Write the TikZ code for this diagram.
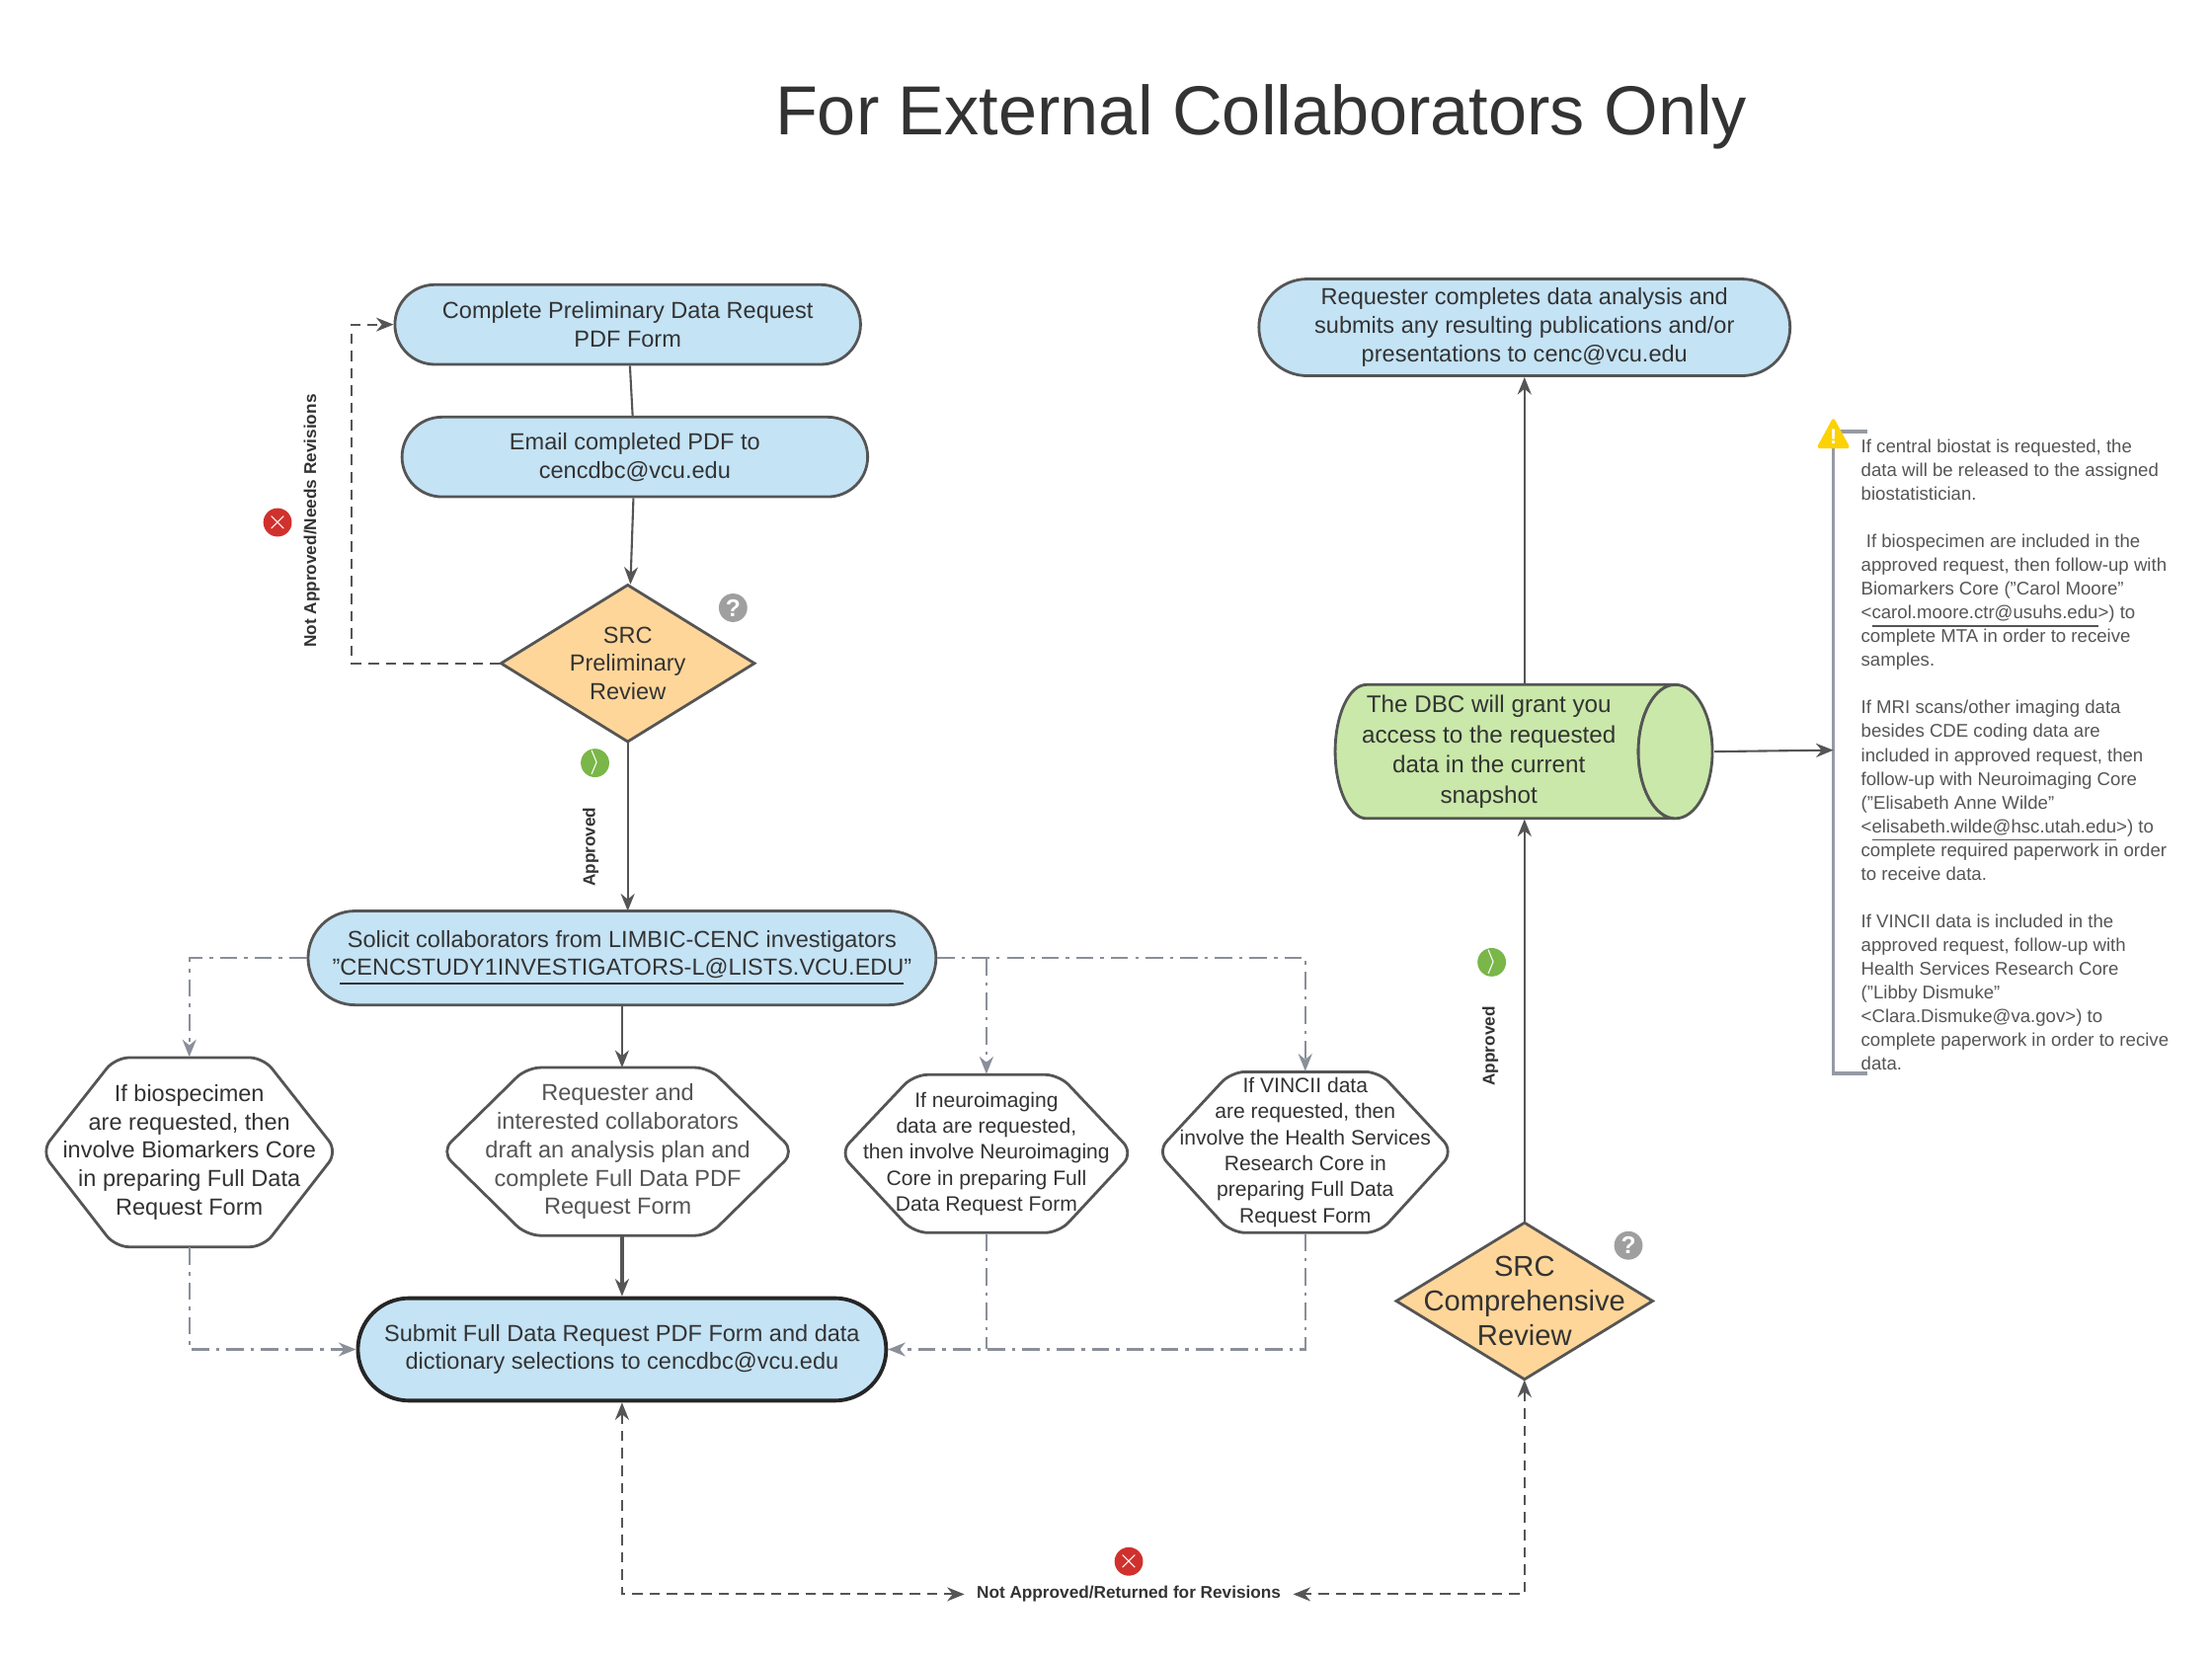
\documentclass[tikz,border=0pt]{standalone}
\usepackage{fontspec}
\setmainfont{Liberation Sans}
\usetikzlibrary{shapes.geometric,shapes.misc,arrows.meta}
\definecolor{bl}{HTML}{C4E3F5}
\definecolor{or}{HTML}{FFD699}
\definecolor{gr}{HTML}{C9E8A9}
\definecolor{ln}{HTML}{555555}
\definecolor{tx}{HTML}{333333}
\definecolor{cn}{HTML}{8A8F99}
\definecolor{gi}{HTML}{7AB648}
\definecolor{ri}{HTML}{D0312D}
\newcommand{\qq}{\symbol{34}}
\begin{document}
\begin{tikzpicture}[x=0.014414cm,y=-0.014414cm,
  every node/.style={font=\fontsize{6.7}{8.2}\selectfont,text=tx,align=center},
  stad/.style={rounded rectangle,draw=ln,line width=0.8pt,fill=bl,inner sep=1pt},
  shp/.style={draw=ln,line width=0.8pt},
  hexa/.style={draw=ln,line width=0.8pt,fill=white,rounded corners=4pt},
  arr/.style={-{Stealth[length=5pt,width=4pt]},draw=ln,line width=0.6pt},
  dd/.style={arr,dash pattern=on 3pt off 2pt},
  dc/.style={-{Stealth[length=5pt,width=4pt]},draw=cn,line width=0.6pt,dash pattern=on 5pt off 2pt on 1pt off 2pt},
  lbl/.style={font=\bfseries\fontsize{4.9}{6}\selectfont,text=tx},
  box/.style={inner sep=0pt},
  icon/.style={circle,inner sep=0pt,minimum size=20*0.014414cm,text=white,font=\bfseries\fontsize{7}{7}\selectfont}]
\useasboundingbox (0,0) rectangle (1554,1165);
\node[font=\fontsize{20}{24}\selectfont] (title) at (886,82) {For External Collaborators Only};

\node[stad,minimum width=332*0.014414cm,minimum height=56*0.014414cm] (A) at (441,228) {Complete Preliminary Data Request\\PDF Form};
\node[stad,minimum width=332*0.014414cm,minimum height=56*0.014414cm] (B) at (446,321) {Email completed PDF to\\cencdbc@vcu.edu};
\fill[or] (352,466)--(441,411)--(530,466)--(441,521)--cycle;
\draw[shp] (352,466)--(441,411)--(530,466)--(441,521)--cycle;
\node[box,minimum width=178*0.014414cm,minimum height=110*0.014414cm] (C) at (441,466) {SRC\\Preliminary\\Review};
\node[stad,minimum width=446*0.014414cm,minimum height=66*0.014414cm] (D) at (437,673) {Solicit collaborators from LIMBIC-CENC investigators\\\qq\underline{CENCSTUDY1INVESTIGATORS-L@LISTS.VCU.EDU}\qq};
\node[stad,line width=1.1pt,draw=black!85,minimum width=376*0.014414cm,minimum height=72*0.014414cm] (F) at (437,948) {Submit Full Data Request PDF Form and data\\dictionary selections to cencdbc@vcu.edu};

% hexagons
\draw[hexa] (29,809)--(81,743)--(185,743)--(237,809)--(185,876)--(81,876)--cycle;
\node[box,minimum width=208*0.014414cm,minimum height=133*0.014414cm] (E1) at (133,809.5) {If biospecimen\\are requested, then\\involve Biomarkers Core\\in preparing Full Data\\Request Form};
\draw[hexa] (310,809)--(370,750)--(498,750)--(558,809)--(498,868)--(370,868)--cycle;
\node[box,minimum width=248*0.014414cm,minimum height=118*0.014414cm,text=ln] (E2) at (434,809) {Requester and\\interested collaborators\\draft an analysis plan and\\complete Full Data PDF\\Request Form};
\draw[hexa] (590,810)--(642,755)--(744,755)--(796,810)--(744,866)--(642,866)--cycle;
\node[box,minimum width=206*0.014414cm,minimum height=111*0.014414cm,font=\fontsize{6}{7.5}\selectfont] (E3) at (693,810.5) {If neuroimaging\\data are requested,\\then involve Neuroimaging\\Core in preparing Full\\Data Request Form};
\draw[hexa] (813,809)--(865,753)--(969,753)--(1021,809)--(969,866)--(865,866)--cycle;
\node[box,minimum width=208*0.014414cm,minimum height=113*0.014414cm,font=\fontsize{6}{7.5}\selectfont] (E4) at (917,809.5) {If VINCII data\\are requested, then\\involve the Health Services\\Research Core in\\preparing Full Data\\Request Form};

\fill[or] (981,914)--(1071,859)--(1161,914)--(1071,969)--cycle;
\draw[shp] (981,914)--(1071,859)--(1161,914)--(1071,969)--cycle;
\node[box,minimum width=180*0.014414cm,minimum height=110*0.014414cm,font=\fontsize{8.3}{10}\selectfont] (G) at (1071,914) {SRC\\Comprehensive\\Review};

% cylinder
\draw[shp,fill=gr] (960,481)--(1177,481) arc[start angle=90,end angle=270,x radius=26,y radius=-47] -- (960,575) arc[start angle=270,end angle=90,x radius=22,y radius=-47] -- cycle;
\draw[shp,fill=gr] (1177,528) ellipse[x radius=26,y radius=47];
\node[box,minimum width=266*0.014414cm,minimum height=94*0.014414cm] (H) at (1071,528) {};
\node[font=\fontsize{6.9}{8.7}\selectfont] (Ht) at (1046,528) {The DBC will grant you\\access to the requested\\data in the current\\snapshot};
\node[stad,minimum width=378*0.014414cm,minimum height=68*0.014414cm] (I) at (1071,230) {Requester completes data analysis and\\submits any resulting publications and/or\\presentations to cenc@vcu.edu};

% note
\draw[cn!90,line width=1pt] (1312,303)--(1288,303)--(1288,754)--(1312,754);
\coordinate (N) at (1288,527);
\node[anchor=north west,align=left,inner sep=0pt,font=\fontsize{5.3}{6.85}\selectfont,text=ln] (note) at (1307,308) {If central biostat is requested, the\\data will be released to the assigned\\biostatistician.\\[6.85pt]
\ If biospecimen are included in the\\approved request, then follow-up with\\Biomarkers Core (\qq Carol Moore\qq\\<\underline{carol.moore.ctr@usuhs.edu}>) to\\complete MTA in order to receive\\samples.\\[6.85pt]
If MRI scans/other imaging data\\besides CDE coding data are\\included in approved request, then\\follow-up with Neuroimaging Core\\(\qq Elisabeth Anne Wilde\qq\\<\underline{elisabeth.wilde@hsc.utah.edu}>) to\\complete required paperwork in order\\to receive data.\\[6.85pt]
If VINCII data is included in the\\approved request, follow-up with\\Health Services Research Core\\(\qq Libby Dismuke\qq\\<Clara.Dismuke@va.gov>) to\\complete paperwork in order to recive\\data.};
\fill[yellow!70!orange,rounded corners=1pt] (1276,315)--(1288,293)--(1300,315)--cycle;
\node[text=white,font=\bfseries\fontsize{6}{6}\selectfont] (warn) at (1288,307) {!};

% connectors
\draw[ln,line width=0.6pt] (A)--(B);
\draw[arr] (B)--(C);
\draw[dd] (C.west)--(247,466)|-(A.west);
\node[lbl,rotate=90] (l1) at (219,366) {Not Approved/Needs Revisions};
\draw[arr] (C.south)--(441,640);
\node[lbl,rotate=90] (l2) at (415,595) {Approved};
\draw[arr] (437,707)--(437,750);
\draw[arr,line width=1pt] (437,868)--(F.north);
\draw[dc] (D.west)-|(E1.north);
\draw[dc] (D.east)-|(E4.north);
\draw[dc] (693,673)--(E3.north);
\draw[dc] (E1.south)|-(F.west);
\draw[dc] (E4.south)|-(F.east);
\draw[cn,line width=0.6pt,dash pattern=on 5pt off 2pt on 1pt off 2pt] (E3.south)--(693,948);
\draw[arr] (G.north)--(H.south);
\node[lbl,rotate=90] (l3) at (1047,735) {Approved};
\draw[arr] (H.north)--(I.south);
\draw[arr] (H.east)--(N);
\node[lbl] (l4) at (793,1120) {Not Approved/Returned for Revisions};
\draw[dd,{Stealth[length=5pt,width=4pt]}-{Stealth[length=5pt,width=4pt]}] (F.south)|-(l4.west);
\draw[dd,{Stealth[length=5pt,width=4pt]}-{Stealth[length=5pt,width=4pt]}] (G.south)|-(l4.east);

% icons
\node[icon,fill=ri] (x1) at (195,367) {$\times$};
\node[icon,fill=ri] (x2) at (793,1097) {$\times$};
\node[icon,fill=gi] (g1) at (418,536) {$\rangle$};
\node[icon,fill=gi] (g2) at (1048,676) {$\rangle$};
\node[icon,fill=gray!75] (q1) at (515,427) {?};
\node[icon,fill=gray!75] (q2) at (1144,875) {?};
\end{tikzpicture}
\end{document}
